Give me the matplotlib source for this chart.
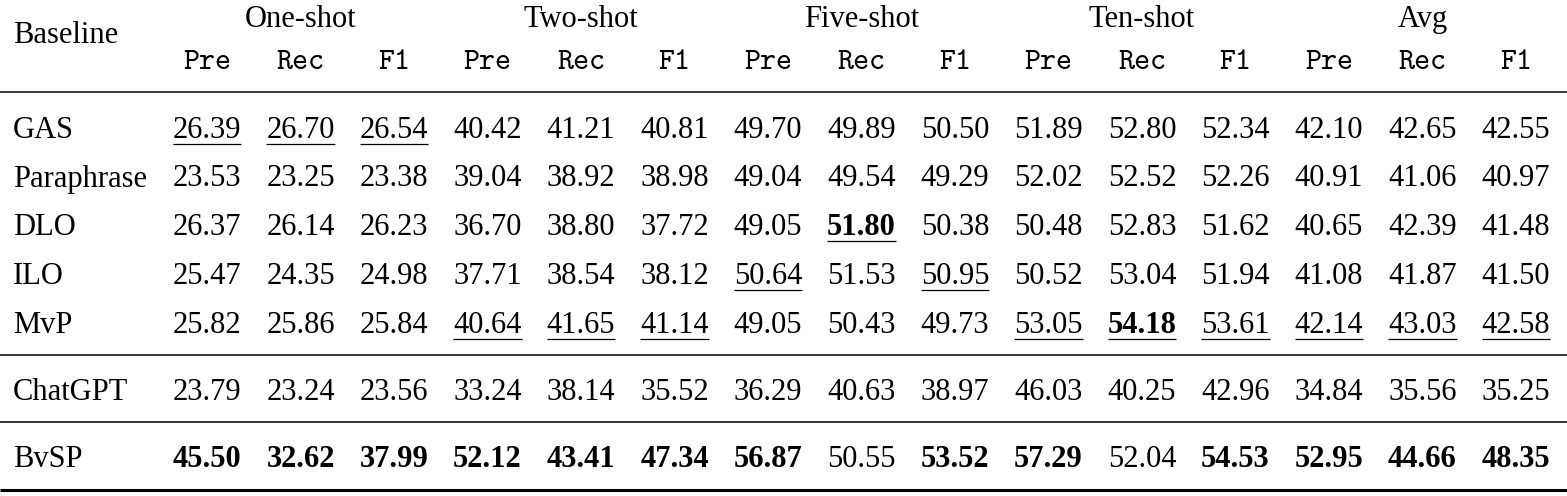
import os
import matplotlib as mpl
mpl.use("Agg")
import matplotlib.pyplot as plt
from matplotlib.font_manager import FontProperties

grupos = ["One-shot", "Two-shot", "Five-shot", "Ten-shot", "Avg"]
metricas = ["Pre", "Rec", "F1"]
baselines = ["GAS", "Paraphrase", "DLO", "ILO", "MvP", "ChatGPT", "BvSP"]

gas = [26.39, 26.70, 26.54, 40.42, 41.21, 40.81, 49.70, 49.89, 50.50, 51.89, 52.80, 52.34, 42.10, 42.65, 42.55]
paraphrase = [23.53, 23.25, 23.38, 39.04, 38.92, 38.98, 49.04, 49.54, 49.29, 52.02, 52.52, 52.26, 40.91, 41.06, 40.97]
dlo = [26.37, 26.14, 26.23, 36.70, 38.80, 37.72, 49.05, 51.80, 50.38, 50.48, 52.83, 51.62, 40.65, 42.39, 41.48]
ilo = [25.47, 24.35, 24.98, 37.71, 38.54, 38.12, 50.64, 51.53, 50.95, 50.52, 53.04, 51.94, 41.08, 41.87, 41.50]
mvp = [25.82, 25.86, 25.84, 40.64, 41.65, 41.14, 49.05, 50.43, 49.73, 53.05, 54.18, 53.61, 42.14, 43.03, 42.58]
chatgpt = [23.79, 23.24, 23.56, 33.24, 38.14, 35.52, 36.29, 40.63, 38.97, 46.03, 40.25, 42.96, 34.84, 35.56, 35.25]
bvsp = [45.50, 32.62, 37.99, 52.12, 43.41, 47.34, 56.87, 50.55, 53.52, 57.29, 52.04, 54.53, 52.95, 44.66, 48.35]
valores = [gas, paraphrase, dlo, ilo, mvp, chatgpt, bvsp]

# (linha, coluna) em negrito / sublinhado
negrito = [(2, 7), (4, 10)] + [(6, c) for c in range(15) if c not in (7, 10)]
sublinhado = [(0, 0), (0, 1), (0, 2), (2, 7), (3, 6), (3, 8),
              (4, 3), (4, 4), (4, 5), (4, 9), (4, 10), (4, 11), (4, 12), (4, 13), (4, 14)]

W, H = 1567, 496
fs = 22
serif = "Liberation Serif"
mono = FontProperties(fname=os.path.join(mpl.get_data_path(), "fonts/ttf/cmtt10.ttf"), size=fs)

fig = plt.figure(figsize=(W / 100, H / 100), dpi=100)
ax = fig.add_axes([0, 0, 1, 1])
ax.set_xlim(0, W)
ax.set_ylim(H, 0)
ax.axis("off")

x0, passo = 207, 93.5
ys = [138, 186.5, 235, 284, 333, 400, 467]

ax.text(13, 43, "Baseline", family=serif, fontsize=fs, va="baseline", ha="left")
for g, nome in enumerate(grupos):
    ax.text(x0 + passo * (3 * g + 1), 27, nome, family=serif, fontsize=fs, va="baseline", ha="center")
    for m, met in enumerate(metricas):
        ax.text(x0 + passo * (3 * g + m), 69, met, fontproperties=mono, va="baseline", ha="center")

textos = []
for i, nome in enumerate(baselines):
    ax.text(13, ys[i], nome, family=serif, fontsize=fs, va="baseline", ha="left")
    for c, v in enumerate(valores[i]):
        peso = "bold" if (i, c) in negrito else "normal"
        t = ax.text(x0 + passo * c, ys[i], "%.2f" % v, family=serif, fontsize=fs,
                    fontweight=peso, va="baseline", ha="center")
        if (i, c) in sublinhado:
            textos.append((t, ys[i]))

for y, lw in [(92, 1.1), (355, 1.1), (422, 1.1), (490, 2.2)]:
    ax.plot([0, W], [y, y], color="black", lw=lw, solid_capstyle="butt")

fig.canvas.draw()
inv = ax.transData.inverted()
for t, y in textos:
    bb = t.get_window_extent()
    xa = inv.transform((bb.x0, 0))[0]
    xb = inv.transform((bb.x1, 0))[0]
    ax.plot([xa, xb], [y + 6, y + 6], color="black", lw=0.9, solid_capstyle="butt")

fig.savefig("out.png", dpi=100)
